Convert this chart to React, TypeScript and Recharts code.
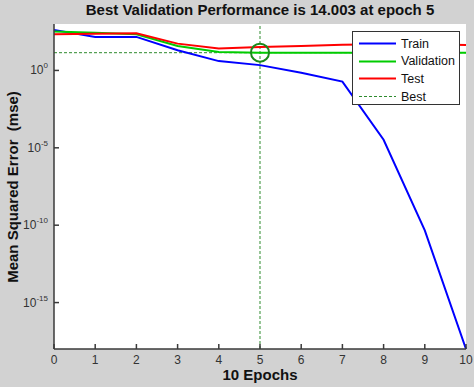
import React from "react";
import { LineChart, Line, XAxis, YAxis, CartesianGrid, ReferenceLine, ReferenceDot } from "recharts";

const epochs = [0, 1, 2, 3, 4, 5, 6, 7, 8, 9, 10];
const trainMse = [417, 147, 147, 20, 4.0, 2.2, 0.71, 0.19, 3.3e-5, 4.6e-11, 1e-18];
const validationMse = [330, 275, 220, 38, 15.5, 14.003, 14.05, 14.08, 14.1, 14.1, 14.1];
const testMse = [219, 236, 255, 54, 25.7, 32.6, 38, 45, 49, 49, 44];
const bestEpoch = 5;
const bestValue = 14.003;
const xTicks = [0, 1, 2, 3, 4, 5, 6, 7, 8, 9, 10];
const yTicks = [1e-15, 1e-10, 1e-5, 1];
const yExponents = ["-15", "-10", "-5", "0"];
const legendItems = [
  { name: "Train", color: "#0000ff", dash: "" },
  { name: "Validation", color: "#00cc00", dash: "" },
  { name: "Test", color: "#ff0000", dash: "" },
  { name: "Best", color: "#2e8b2e", dash: "3 2" },
];

const data = epochs.map((e, i) => ({
  epoch: e,
  train: trainMse[i],
  validation: validationMse[i],
  test: testMse[i],
}));

const FONT = "Arial, 'Liberation Sans', sans-serif";
const AXIS_COLOR = "#3a3a3a";

const XTick = (props: any) => {
  const { x, y, payload } = props;
  return (
    <g>
      <line x1={x} x2={x} y1={y} y2={y - 5} stroke={AXIS_COLOR} strokeWidth={1.5} />
      <text x={x} y={y + 15} textAnchor="middle" fontSize={12} fontFamily={FONT} fill="#333">
        {payload.value}
      </text>
    </g>
  );
};

const YTick = (props: any) => {
  const { x, y, payload } = props;
  const idx = yTicks.indexOf(payload.value);
  const exp = idx >= 0 ? yExponents[idx] : String(Math.round(Math.log10(payload.value)));
  return (
    <g>
      <line x1={x} x2={x + 5} y1={y} y2={y} stroke={AXIS_COLOR} strokeWidth={1.5} />
      <text x={x - 6} y={y + 4} textAnchor="end" fontFamily={FONT} fill="#333">
        <tspan fontSize={12}>10</tspan>
        <tspan fontSize={8} dy={-6}>{exp}</tspan>
      </text>
    </g>
  );
};

export default function App() {
  return (
    <div style={{ position: "absolute", left: 0, top: 0, width: 474, height: 387, background: "#d2d2d2", overflow: "hidden" }}>
      <LineChart width={474} height={387} data={data} margin={{ top: 24, right: 8, bottom: 0, left: 0 }}>
        <CartesianGrid horizontal={false} vertical={false} fill="#ffffff" stroke="none" />
        <XAxis
          dataKey="epoch"
          type="number"
          domain={[0, 10]}
          ticks={xTicks}
          height={38}
          tickSize={0}
          tickMargin={0}
          tick={<XTick />}
          axisLine={{ stroke: AXIS_COLOR, strokeWidth: 1.5 }}
          tickLine={false}
        />
        <YAxis
          type="number"
          scale="log"
          domain={[1e-18, 1e3]}
          allowDataOverflow
          ticks={yTicks}
          width={54}
          tickSize={0}
          tickMargin={0}
          tick={<YTick />}
          axisLine={{ stroke: AXIS_COLOR, strokeWidth: 1.5 }}
          tickLine={false}
        />
        <ReferenceLine x={bestEpoch} stroke="#2e8b2e" strokeDasharray="3 2" strokeWidth={1} />
        <ReferenceLine y={bestValue} stroke="#2e8b2e" strokeDasharray="3 2" strokeWidth={1} />
        <Line dataKey="train" stroke="#0000ff" strokeWidth={2} dot={false} isAnimationActive={false} />
        <Line dataKey="validation" stroke="#00cc00" strokeWidth={2} dot={false} isAnimationActive={false} />
        <Line dataKey="test" stroke="#ff0000" strokeWidth={2} dot={false} isAnimationActive={false} />
        <ReferenceDot x={bestEpoch} y={bestValue} r={9} fill="none" stroke="#1a8a1a" strokeWidth={2} />
      </LineChart>
      <div style={{ position: "absolute", left: 54, width: 412, top: 1, textAlign: "center", fontFamily: FONT, fontWeight: "bold", fontSize: 15, color: "#111", whiteSpace: "nowrap" }}>
        Best Validation Performance is 14.003 at epoch 5
      </div>
      <div style={{ position: "absolute", left: 54, width: 412, top: 366, textAlign: "center", fontFamily: FONT, fontWeight: "bold", fontSize: 15, color: "#111", whiteSpace: "nowrap" }}>
        10 Epochs
      </div>
      <div style={{ position: "absolute", left: 12, top: 187, width: 0, height: 0 }}>
        <div style={{ position: "absolute", transform: "translate(-50%, -50%) rotate(-90deg)", fontFamily: FONT, fontWeight: "bold", fontSize: 15, color: "#111", whiteSpace: "pre" }}>
          Mean Squared Error  (mse)
        </div>
      </div>
      <div style={{ position: "absolute", left: 352, top: 31, width: 108, height: 74, background: "#fff", border: "1px solid #333", boxSizing: "border-box" }}>
        {legendItems.map((it, i) => (
          <div key={it.name} style={{ position: "absolute", left: 0, top: 3 + i * 17.7, height: 17, width: 108, display: "flex", alignItems: "center" }}>
            <svg width={48} height={17} style={{ display: "block" }}>
              <line x1={6} x2={43} y1={8.5} y2={8.5} stroke={it.color} strokeWidth={it.dash ? 1 : 2} strokeDasharray={it.dash || undefined} />
            </svg>
            <span style={{ fontFamily: FONT, fontSize: 12.5, color: "#111" }}>{it.name}</span>
          </div>
        ))}
      </div>
    </div>
  );
}
